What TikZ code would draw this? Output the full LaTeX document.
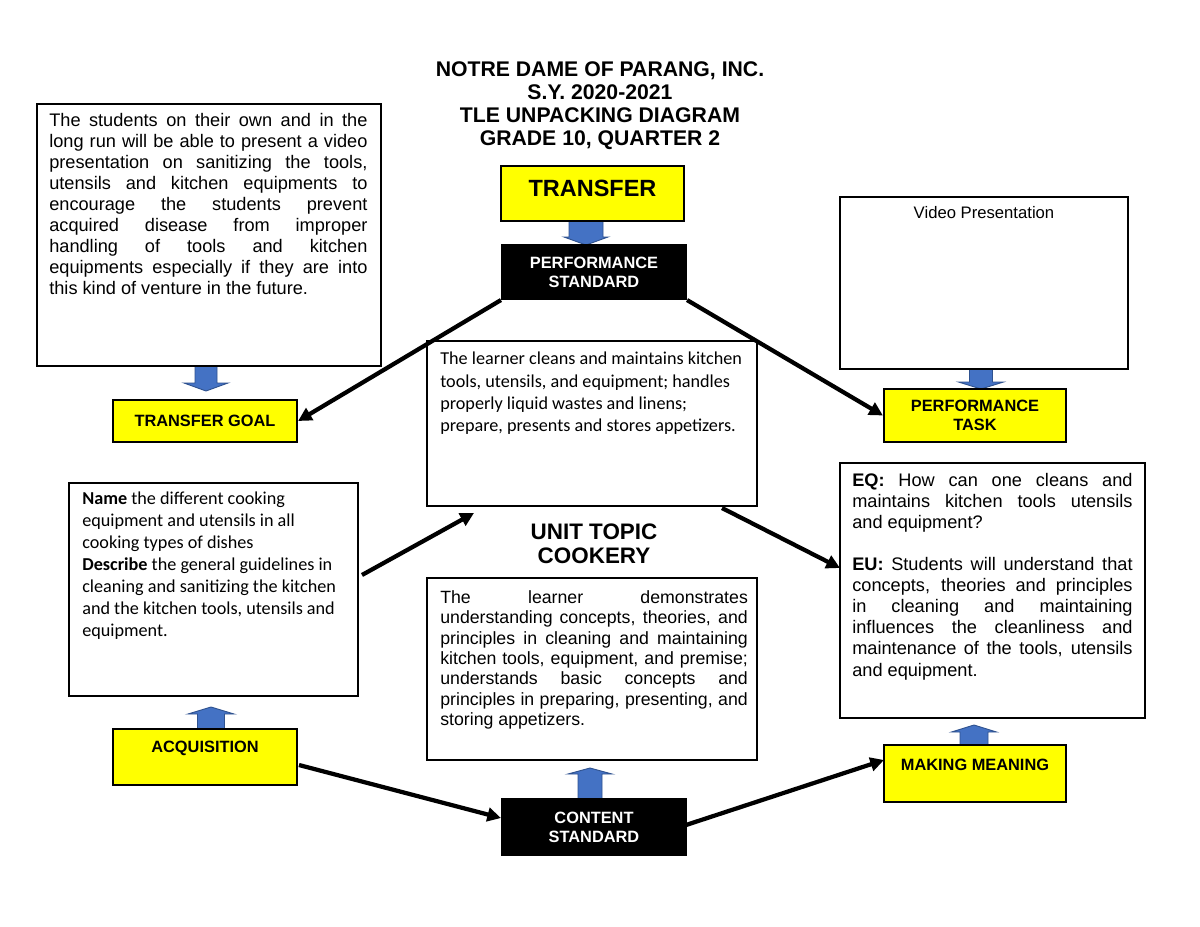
\documentclass[tikz,border=0pt]{standalone}
\usepackage{fontspec}
\setmainfont{Liberation Sans}
\newfontfamily\calib{Carlito}
\usetikzlibrary{fit,arrows.meta}
\definecolor{bluefill}{HTML}{4472C4}
\definecolor{blueline}{HTML}{2F528F}
\definecolor{ylw}{HTML}{FFFF00}
\newcommand\blkdown[6]{\filldraw[barrow] ({#1-#4},#2) -- ({#1+#4},#2) -- ({#1+#4},{#3-#6}) -- ({#1+#5},{#3-#6}) -- (#1,#3) -- ({#1-#5},{#3-#6}) -- ({#1-#4},{#3-#6}) -- cycle;}
\newcommand\blkup[6]{\filldraw[barrow] ({#1-#4},#3) -- ({#1+#4},#3) -- ({#1+#4},{#2+#6}) -- ({#1+#5},{#2+#6}) -- (#1,#2) -- ({#1-#5},{#2+#6}) -- ({#1-#4},{#2+#6}) -- cycle;}
\begin{document}
\begin{tikzpicture}[x=0.66pt,y=-0.66pt,
  wbox/.style={draw=black, line width=1.4pt, fill=white, inner sep=0pt},
  ybox/.style={draw=black, line width=1.4pt, fill=ylw, inner sep=0pt},
  kbox/.style={draw=black, line width=1.4pt, fill=black, inner sep=0pt},
  lbl/.style={inner sep=0pt, align=center, font=\fontsize{10.8}{12.5}\selectfont\bfseries},
  wlbl/.style={lbl, text=white},
  txt/.style={anchor=north west, inner sep=0pt, font=\fontsize{12}{13.9}\selectfont},
  ctxt/.style={anchor=north west, inner sep=0pt, align=left, font=\calib\fontsize{12}{14.6}\selectfont},
  conn/.style={line width=2.8pt, -{Triangle[length=9pt,width=9pt]}},
  barrow/.style={fill=bluefill, draw=blueline, line width=0.6pt}]
\useasboundingbox (0,0) rectangle (1200,927);
\fill[white] (0,0) rectangle (1200,927);

% title
\node[align=center, inner sep=0pt, font=\fontsize{14}{15.2}\selectfont\bfseries] (title) at (600,105.5)
  {NOTRE DAME OF PARANG, INC.\\ S.Y. 2020-2021\\ TLE UNPACKING DIAGRAM\\ GRADE 10, QUARTER 2};

% blue block arrows
\blkdown{586}{221}{245}{17}{22}{8}
\blkdown{206}{366}{391}{11}{22}{8}
\blkdown{981}{369}{389}{11.5}{22.5}{7}
\blkup{590}{768}{799}{12}{22}{6}
\blkup{211}{707}{729}{13.5}{23}{7}
\blkup{974}{725}{745}{14}{22.5}{7}

% top center
\node[ybox, fit={(501,166) (684,221)}] (tr) {};
\node[lbl, font=\fontsize{15.5}{17}\selectfont\bfseries] (trtext) at (592.5,188) {TRANSFER};
\node[kbox, fit={(502,245) (686,299)}] (ps) {};
\node[wlbl] (pstext) at (ps.center) {PERFORMANCE\\ STANDARD};

% top left
\node[wbox, fit={(37,104) (381,366)}] (tl) {};
\node[txt, text width=210pt, align=justify] (tltext) at (49,113)
  {The students on their own and in the\linebreak
   long run will be able to present a video\linebreak
   presentation on sanitizing the tools,\linebreak
   utensils and kitchen equipments to\linebreak
   encourage the students prevent\linebreak
   acquired disease from improper\linebreak
   handling of tools and kitchen\linebreak
   equipments especially if they are into\linebreak
   this kind of venture in the future.};
\node[ybox, fit={(113,400) (297,442)}] (tg) {};
\node[lbl] (tgtext) at (tg.center) {TRANSFER GOAL};

% top right
\node[wbox, fit={(840,197) (1128,369)}] (vp) {};
\node[inner sep=0pt, font=\fontsize{11}{13}\selectfont] (vptext) at (984,213) {Video Presentation};
\node[ybox, fit={(884,389) (1066,442)}] (pt) {};
\node[lbl] (pttext) at (975,415) {PERFORMANCE\\ TASK};

% center top
\node[wbox, fit={(427,341) (757,506)}] (ct) {};
\node[ctxt] (cttext) at (440,352)
  {The learner cleans and maintains kitchen\\
   tools, utensils, and equipment; handles\\
   properly liquid wastes and linens;\\
   prepare, presents and stores appetizers.};
\node[align=center, inner sep=0pt, font=\fontsize{14.8}{16}\selectfont\bfseries] (unit) at (594,544)
  {UNIT TOPIC\\ COOKERY};

% center bottom
\node[wbox, fit={(427,578) (757,760)}] (cb) {};
\node[txt, text width=203pt, align=justify, font=\fontsize{11.7}{13.5}\selectfont] (cbtext) at (440,590)
  {The learner demonstrates\linebreak
   understanding concepts, theories, and\linebreak
   principles in cleaning and maintaining\linebreak
   kitchen tools, equipment, and premise;\linebreak
   understands basic concepts and\linebreak
   principles in preparing, presenting, and\linebreak
   storing appetizers.};
\node[kbox, fit={(502,799) (686,855)}] (cs) {};
\node[wlbl] (cstext) at (cs.center) {CONTENT\\ STANDARD};

% left middle
\node[wbox, fit={(69,483) (358,696)}] (lm) {};
\node[ctxt, font=\calib\fontsize{12}{14.5}\selectfont] (lmtext) at (82,492)
  {\textbf{Name} the different cooking\\
   equipment and utensils in all\\
   cooking types of dishes\\
   \textbf{Describe} the general guidelines in\\
   cleaning and sanitizing the kitchen\\
   and the kitchen tools, utensils and\\
   equipment.};
\node[ybox, fit={(113,729) (297,785)}] (acq) {};
\node[lbl] (acqtext) at (205,748) {ACQUISITION};

% right middle
\node[wbox, fit={(840,463) (1145,718)}] (eq) {};
\node[txt, text width=185pt, align=justify] (eqtext) at (852,473)
  {\textbf{EQ:} How can one cleans and\linebreak
   maintains kitchen tools utensils\linebreak
   and equipment?\par\vspace{13.9pt}
   \textbf{EU:} Students will understand that\linebreak
   concepts, theories and principles\linebreak
   in cleaning and maintaining\linebreak
   influences the cleanliness and\linebreak
   maintenance of the tools, utensils\linebreak
   and equipment.};
\node[ybox, fit={(884,745) (1066,802)}] (mm) {};
\node[lbl] (mmtext) at (975,765) {MAKING MEANING};

% connectors
\coordinate (lmo) at (362,575);
\coordinate (cti) at (474,513);
\coordinate (cto) at (722,508);
\coordinate (eqi) at (840,568);
\coordinate (acqo) at (299,765);
\coordinate (csi) at (501,818);
\coordinate (cso) at (686,825);
\coordinate (mmi) at (884,760);
\draw[conn] (ps.south west) -- (tg.east);
\draw[conn] (ps.south east) -- (pt.west);
\draw[conn] (lmo) -- (cti);
\draw[conn] (cto) -- (eqi);
\draw[conn] (acqo) -- (csi);
\draw[conn] (cso) -- (mmi);
\end{tikzpicture}
\end{document}
